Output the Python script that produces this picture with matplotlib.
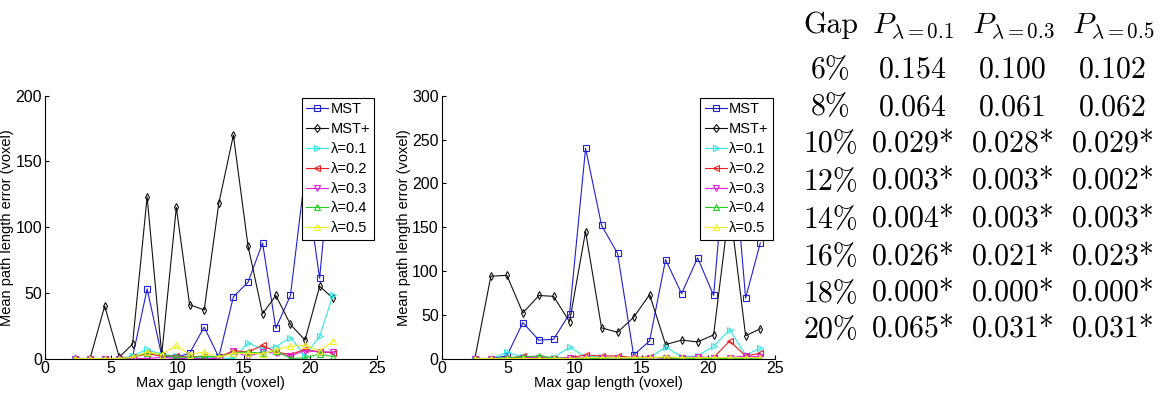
import numpy as np
import matplotlib
matplotlib.use('Agg')
import matplotlib.pyplot as plt

plt.rcParams['font.family'] = ['Liberation Sans', 'DejaVu Sans']
plt.rcParams['mathtext.fontset'] = 'cm'

# ---------------------------------------------------------------------------
# data
# ---------------------------------------------------------------------------
series_names = ['MST', 'MST+', 'λ=0.1', 'λ=0.2', 'λ=0.3', 'λ=0.4', 'λ=0.5']

x_left = [2.3, 3.4, 4.5, 5.6, 6.6, 7.7, 8.8, 9.9, 10.9, 12.0,
          13.1, 14.2, 15.3, 16.4, 17.4, 18.5, 19.6, 20.7, 21.7]
left_mst = [0, 0, 0, 0, 1, 53, 2, 1, 4, 24, 1, 47, 58, 88, 23, 48, 140, 61, 170]
left_mstp = [0, 0, 40, 1, 11, 123, 3, 115, 41, 37, 118, 170, 86, 34, 48, 26, 14, 55, 46]
left_l01 = [0, 0, 0, 0, 2, 7, 3, 2, 1, 0.5, 0.5, 0, 12, 7, 9, 16, 2, 17, 48]
left_l02 = [0, 0, 0, 0, 1, 3.5, 2, 2, 1, 2, 1, 6, 5, 10, 5, 3, 7, 5, 4.5]
left_l03 = [0, 0, 0, 0, 0, 0, 1, 0, 0, 0, 0, 5.5, 1.5, 5, 4, 2, 6, 5, 5]
left_l04 = [0, 0, 0, 0, 1, 4.5, 3, 1, 1, 1.5, 1.5, 4, 5, 4, 6, 0, 0.5, 3.5, 1.5]
left_l05 = [0, 0, 0, 0, 1, 5, 3, 10, 3, 5, 1, 4, 4, 3.5, 6.5, 9.5, 10, 6, 13]

x_right = [2.5, 3.7, 4.9, 6.1, 7.3, 8.4, 9.6, 10.8, 12.0, 13.2,
           14.4, 15.6, 16.8, 18.0, 19.2, 20.4, 21.6, 22.8, 23.9]
right_mst = [0, 0, 3, 41, 21, 22, 51, 240, 152, 120, 4, 20, 113, 74, 115, 72, 285, 69, 132]
right_mstp = [0, 94, 95, 52, 72, 71, 42, 145, 35, 30, 47, 73, 16, 21, 19, 27, 175, 26, 34]
right_l01 = [0, 0, 7, 2, 1, 1, 13, 2, 2, 1, 1, 1, 13, 2, 3, 14, 33, 4, 12]
right_l02 = [0, 0, 0, 3, 1, 0, 1, 4, 3, 3, 1, 2, 0, 1, 1, 1, 20, 3, 6]
right_l03 = [0, 0, 0, 1, 1, 0, 1, 1, 1, 1, 1, 1, 1, 1, 2, 1, 1, 3, 2]
right_l04 = [0, 0, 1, 2, 3, 1, 0, 0, 0, 1, 0, 1, 1, 0, 0, 0, 0, 0, 0]
right_l05 = [0, 0, 0, 0, 0, 0, 0, 1, 1, 1, 1, 1, 2, 1, 1, 1, 1, 1, 1]

gap_labels = ['6%', '8%', '10%', '12%', '14%', '16%', '18%', '20%']
p_01 = ['0.154', '0.064', '0.029*', '0.003*', '0.004*', '0.026*', '0.000*', '0.065*']
p_03 = ['0.100', '0.061', '0.028*', '0.003*', '0.003*', '0.021*', '0.000*', '0.031*']
p_05 = ['0.102', '0.062', '0.029*', '0.002*', '0.003*', '0.023*', '0.000*', '0.031*']

# ---------------------------------------------------------------------------
# styles (MATLAB-ish)
# ---------------------------------------------------------------------------
colors = ['#1f1fd0', '#111111', '#33e6e6', '#e62020', '#e020e0', '#22d022', '#f0f020']
markers = ['s', 'd', '>', '<', 'v', '^', '^']


def draw_panel(ax, x, ys, ymax):
    for y, name, c, m in zip(ys, series_names, colors, markers):
        ax.plot(x, y, color=c, marker=m, markersize=4, markerfacecolor='none',
                markeredgecolor=c, markeredgewidth=0.8, linewidth=0.8, label=name)
    ax.set_xlim(0, 25)
    ax.set_ylim(0, ymax)
    ax.set_xticks(np.arange(0, 26, 5))
    ax.set_yticks(np.arange(0, ymax + 1, 50))
    for s in ['top', 'right']:
        ax.spines[s].set_visible(False)
    ax.spines['left'].set_linewidth(0.8)
    ax.spines['bottom'].set_linewidth(0.8)
    ax.tick_params(direction='in', length=3, width=0.8, labelsize=11.5)
    ax.tick_params(axis='x', pad=2)
    ax.tick_params(axis='y', pad=2)
    ax.set_xlabel('Max gap length (voxel)', fontsize=10.5, labelpad=0)
    ax.set_ylabel('Mean path length error (voxel)', fontsize=10.5, labelpad=1)
    leg = ax.legend(loc='upper right', fontsize=10.5, frameon=True, fancybox=False,
                    framealpha=1, edgecolor='black', borderpad=0.3,
                    labelspacing=0.4, handlelength=1.5, handletextpad=0.15,
                    borderaxespad=0.15, bbox_to_anchor=(1.0, 1.0), markerscale=1.1)
    leg.get_frame().set_linewidth(0.8)


fig = plt.figure(figsize=(11.68, 3.94), dpi=100)
ax1 = fig.add_axes([0.0385, 0.09, 0.284, 0.667])
ax2 = fig.add_axes([0.378, 0.09, 0.2855, 0.667])

draw_panel(ax1, x_left, [left_mst, left_mstp, left_l01, left_l02, left_l03,
                         left_l04, left_l05], 200)
draw_panel(ax2, x_right, [right_mst, right_mstp, right_l01, right_l02, right_l03,
                          right_l04, right_l05], 300)

# ---------------------------------------------------------------------------
# p-value table
# ---------------------------------------------------------------------------
col_x = [831 / 1168, 913 / 1168, 1013 / 1168, 1113 / 1168]
row_base = [78, 115, 152, 190, 228, 265, 302, 338]
fs = 21.5

fig.text(col_x[0], 1 - 33 / 394, 'Gap', fontfamily='cmr10', fontsize=fs,
         ha='center', va='baseline')
for cx, lam in zip(col_x[1:], ['0.1', '0.3', '0.5']):
    fig.text(cx, 1 - 33 / 394, r'$P_{\lambda=%s}$' % lam, fontsize=fs,
             ha='center', va='baseline')

for i in range(len(gap_labels)):
    yb = 1 - row_base[i] / 394
    for cx, txt in zip(col_x, [gap_labels[i], p_01[i], p_03[i], p_05[i]]):
        fig.text(cx, yb, txt, fontfamily='cmr10', fontsize=fs,
                 ha='center', va='baseline')

fig.savefig('out.png', dpi=100)
